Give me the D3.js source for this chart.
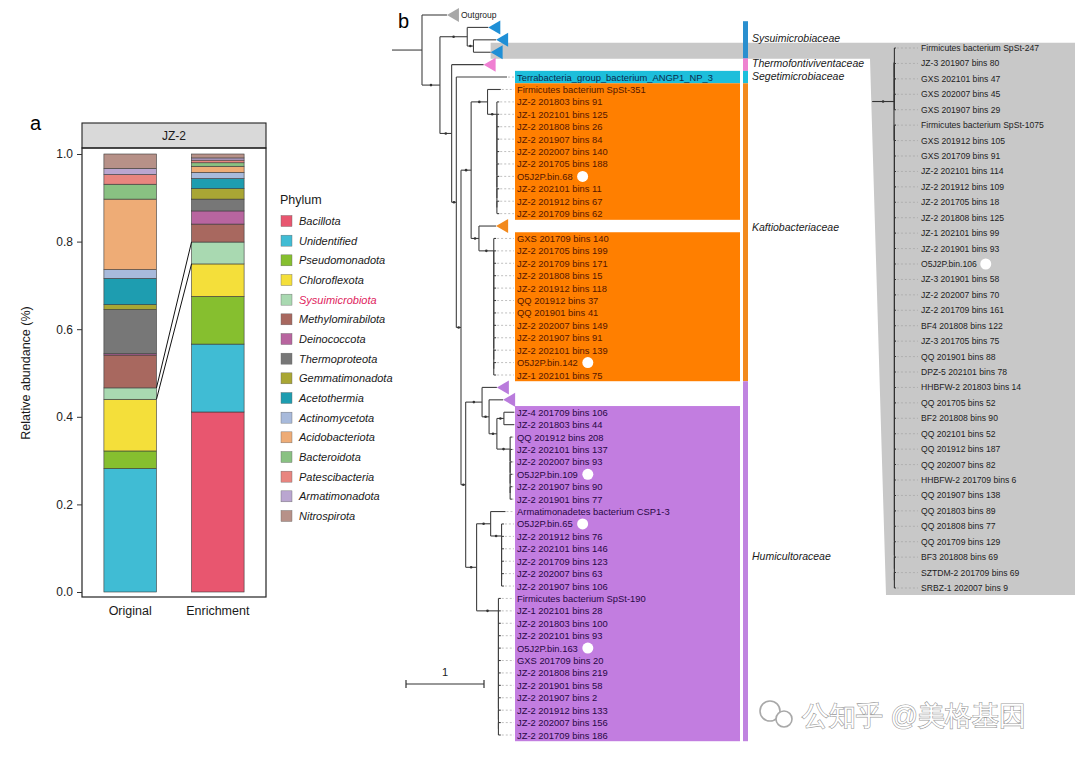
<!DOCTYPE html>
<html><head><meta charset="utf-8">
<script src="https://cdn.jsdelivr.net/npm/d3@7"></script>
<style>
body{margin:0;background:#fff}
svg text{font-family:"Liberation Sans",Arial,Helvetica,sans-serif}
</style>
</head><body>
<svg id="c" width="1080" height="763"></svg>
<script>
// ---------------- DATA: panel a ----------------
const phyla = ["Bacillota","Unidentified","Pseudomonadota","Chloroflexota","Sysuimicrobiota","Methylomirabilota","Deinococcota","Thermoproteota","Gemmatimonadota","Acetothermia","Actinomycetota","Acidobacteriota","Bacteroidota","Patescibacteria","Armatimonadota","Nitrospirota"];
const phylumColors = ["#e8566f","#40bcd4","#86bf2f","#f4df3a","#a9d9b1","#a8685f","#b8659f","#777777","#a9a634","#1e9db0","#a8badb","#eeac76","#89c182","#e8857f","#baa6d0","#b79188"];
const samples = ["Original","Enrichment"];
const originalValues   = [0,0.282,0.040,0.118,0.026,0.075,0.003,0.101,0.011,0.060,0.020,0.161,0.034,0.022,0.014,0.033];
const enrichmentValues = [0.411,0.155,0.109,0.074,0.050,0.041,0.030,0.027,0.024,0.023,0.014,0.014,0.008,0.006,0.005,0.009];
const yTicks = [0,0.2,0.4,0.6,0.8,1.0];
const highlightPhylum = "Sysuimicrobiota";
const facetLabel = "JZ-2";

// ---------------- DATA: panel b ----------------
const kaft1Leaves = ["JZ-2 201803 bins 91","JZ-1 202101 bins 125","JZ-2 201808 bins 26","JZ-2 201907 bins 84","JZ-2 202007 bins 140","JZ-2 201705 bins 188","O5J2P.bin.68","JZ-2 202101 bins 11","JZ-2 201912 bins 67","JZ-2 201709 bins 62"];
const kaft2Leaves = ["GXS 201709 bins 140","JZ-2 201705 bins 199","JZ-2 201709 bins 171","JZ-2 201808 bins 15","JZ-2 201912 bins 118","QQ 201912 bins 37","QQ 201901 bins 41","JZ-2 202007 bins 149","JZ-2 201907 bins 91","JZ-2 202101 bins 139","O5J2P.bin.142","JZ-1 202101 bins 75"];
const humi1Leaves = ["QQ 201912 bins 208","JZ-2 202101 bins 137","JZ-2 202007 bins 93","O5J2P.bin.109","JZ-2 201907 bins 90","JZ-2 201901 bins 77"];
const humi2Leaves = ["O5J2P.bin.65","JZ-2 201912 bins 76","JZ-2 202101 bins 146","JZ-2 201709 bins 123","JZ-2 202007 bins 63","JZ-2 201907 bins 106"];
const humi3Leaves = ["Firmicutes bacterium SpSt-190","JZ-1 202101 bins 28","JZ-2 201803 bins 100","JZ-2 202101 bins 93","O5J2P.bin.163","GXS 201709 bins 20","JZ-2 201808 bins 219","JZ-2 201901 bins 58","JZ-2 201907 bins 2","JZ-2 201912 bins 133","JZ-2 202007 bins 156","JZ-2 201709 bins 186"];
const greyLeaves = ["Firmicutes bacterium SpSt-247","JZ-3 201907 bins 80","GXS 202101 bins 47","GXS 202007 bins 45","GXS 201907 bins 29","Firmicutes bacterium SpSt-1075","GXS 201912 bins 105","GXS 201709 bins 91","JZ-2 202101 bins 114","JZ-2 201912 bins 109","JZ-2 201705 bins 18","JZ-2 201808 bins 125","JZ-1 202101 bins 99","JZ-2 201901 bins 93","O5J2P.bin.106","JZ-3 201901 bins 58","JZ-2 202007 bins 70","JZ-2 201709 bins 161","BF4 201808 bins 122","JZ-3 201705 bins 75","QQ 201901 bins 88","DPZ-5 202101 bins 78","HHBFW-2 201803 bins 14","QQ 201705 bins 52","BF2 201808 bins 90","QQ 202101 bins 52","QQ 201912 bins 187","QQ 202007 bins 82","HHBFW-2 201709 bins 6","QQ 201907 bins 138","QQ 201803 bins 89","QQ 201808 bins 77","QQ 201709 bins 129","BF3 201808 bins 69","SZTDM-2 201709 bins 69","SRBZ-1 202007 bins 9"];
const ourBins = ["O5J2P.bin.68","O5J2P.bin.142","O5J2P.bin.109","O5J2P.bin.65","O5J2P.bin.163","O5J2P.bin.106"];
const cladeColors = {outgroup:"#a8a8a8", sys:"#1f8fd6", thermo:"#ef7fd2", kaft:"#f28a1e", humi:"#b97bdc"};
const families = [
  {name:"Sysuimicrobiaceae", from:"sys1", to:"sys3", color:"#2a8fcf"},
  {name:"Thermofontiviventaceae", from:"thermo", to:"thermo", color:"#ee82d0"},
  {name:"Segetimicrobiaceae", from:"Terrabacteria_group_bacterium_ANGP1_NP_3", to:"Terrabacteria_group_bacterium_ANGP1_NP_3", color:"#1dbfdc"},
  {name:"Kaftiobacteriaceae", from:"Firmicutes bacterium SpSt-351", to:"JZ-1 202101 bins 75", color:"#f28a1e"},
  {name:"Humicultoraceae", from:"humiC1", to:"JZ-2 201709 bins 186", color:"#c084e0"}
];
const highlightGroups = [
  {from:"Terrabacteria_group_bacterium_ANGP1_NP_3", to:"Terrabacteria_group_bacterium_ANGP1_NP_3", fill:"#1dbedb", text:"#0a2a4c"},
  {from:"Firmicutes bacterium SpSt-351", to:"JZ-2 201709 bins 62", fill:"#ff7f00", text:"#561700"},
  {from:"GXS 201709 bins 140", to:"JZ-1 202101 bins 75", fill:"#ff7f00", text:"#561700"},
  {from:"JZ-4 201709 bins 106", to:"JZ-2 201709 bins 186", fill:"#c27de0", text:"#280845"}
];

function ladder(names, tip){
  const leaf = n => ({name:n, len:tip});
  if (names.length === 1) return leaf(names[0]);
  let node = {len:0, children:[leaf(names[names.length-2]), leaf(names[names.length-1])]};
  for (let i = names.length-3; i >= 0; i--) node = {len:0, children:[leaf(names[i]), node]};
  return node;
}
const withLen = (n, l) => Object.assign(n, {len:l});

// branch lengths (substitutions/site, scale bar = 1)
const tree = {len:0.385, children:[
  {id:"outgroup", name:"Outgroup", len:0.32, clade:"outgroup"},
  {len:0.23, children:[
    {len:0.35, children:[
      {id:"sys1", len:0.27, clade:"sys"},
      {len:0.08, children:[{id:"sys2", len:0.29, clade:"sys"}, {id:"sys3", len:0.22, clade:"sys", expanded:true}]}
    ]},
    {len:0.15, children:[
      {id:"thermo", len:0.41, clade:"thermo"},
      {len:0.06, children:[
        {name:"Terrabacteria_group_bacterium_ANGP1_NP_3", len:0.65},
        {len:0.06, children:[
          {len:0.13, children:[
            {len:0.21, children:[{name:"Firmicutes bacterium SpSt-351", len:0.17}, withLen(ladder(kaft1Leaves,0.03),0.12)]},
            {len:0.10, children:[{id:"kaftC", len:0.22, clade:"kaft"}, withLen(ladder(kaft2Leaves,0.03),0.19)]}
          ]},
          {len:0.06, children:[
            {len:0.21, children:[
              {id:"humiC1", len:0.19, clade:"humi"},
              {len:0.09, children:[
                {id:"humiC2", len:0.18, clade:"humi"},
                {len:0.10, children:[
                  {len:0.09, children:[{name:"JZ-4 201709 bins 106", len:0.13}, {name:"JZ-2 201803 bins 44", len:0.13}]},
                  withLen(ladder(humi1Leaves,0.03),0.17)
                ]}
              ]}
            ]},
            {len:0.14, children:[
              {len:0.18, children:[{name:"Armatimonadetes bacterium CSP1-3", len:0.19}, withLen(ladder(humi2Leaves,0.03),0.14)]},
              withLen(ladder(humi3Leaves,0.03),0.28)
            ]}
          ]}
        ]}
      ]}
    ]}
  ]}
]};
const greyTree = {len:0.28, children:[withLen(ladder(greyLeaves.slice(0,5),0.02),0.005), withLen(ladder(greyLeaves.slice(5),0.02),0.005)]};
const scaleBarLength = 1;
const watermark = "公知乎 @美格基因";

// ---------------- DRAW ----------------
const svg = d3.select("#c");
const FONT = '"Liberation Sans",Arial,sans-serif';

// ===== Panel a =====
const gA = svg.append("g");
const y = d3.scaleLinear([0,1],[592,154]);
const x = d3.scaleBand(samples,[82,266]).paddingInner(0.4).paddingOuter(0.25);
const color = d3.scaleOrdinal(phyla, phylumColors);
const table = [originalValues, enrichmentValues].map((vals,i) => {
  const row = {sample: samples[i]};
  phyla.forEach((p,j) => row[p] = vals[j]);
  return row;
});
const series = d3.stack().keys(phyla)(table);

gA.append("text").attr("x",30).attr("y",130).attr("font-size",20).text("a");
gA.append("rect").attr("x",82).attr("y",123).attr("width",184).attr("height",25).attr("fill","#d9d9d9").attr("stroke","#222").attr("stroke-width",1.1);
gA.append("text").attr("x",174).attr("y",136).attr("text-anchor","middle").attr("dominant-baseline","central").attr("font-size",12).attr("fill","#1a1a1a").text(facetLabel);

gA.append("g").selectAll("g").data(series).join("g").attr("fill", d => color(d.key))
  .selectAll("rect").data(d => d).join("rect")
  .attr("x", d => x(d.data.sample)).attr("width", x.bandwidth())
  .attr("y", d => y(d[1])).attr("height", d => Math.max(0, y(d[0]) - y(d[1])))
  .attr("stroke", d => (d[1]-d[0]) > 0 ? "#3a3a3a" : "none").attr("stroke-width",0.6);

const hs = series.find(s => s.key === highlightPhylum);
const o = hs[0], e = hs[1];
[[o[0],e[0]],[o[1],e[1]]].forEach(([a,b]) => {
  gA.append("line").attr("x1", x("Original")+x.bandwidth()).attr("y1", y(a))
    .attr("x2", x("Enrichment")).attr("y2", y(b)).attr("stroke","#111").attr("stroke-width",1);
});
gA.append("rect").attr("x",82).attr("y",148).attr("width",184).attr("height",449).attr("fill","none").attr("stroke","#222").attr("stroke-width",1.2);

const yAxis = gA.append("g").attr("transform","translate(82,0)")
  .call(d3.axisLeft(y).tickValues(yTicks).tickFormat(d3.format(".1f")).tickSize(5).tickPadding(4));
yAxis.select(".domain").remove();
yAxis.selectAll("text").attr("font-size",12).attr("fill","#222").attr("font-family",FONT);
yAxis.selectAll("line").attr("stroke","#333");
gA.append("text").attr("transform","translate(26,373) rotate(-90)").attr("text-anchor","middle")
  .attr("dominant-baseline","central").attr("font-size",12.5).attr("fill","#1a1a1a").text("Relative abundance (%)");
gA.selectAll(".xl").data(samples).join("text").attr("x", d => x(d)+x.bandwidth()/2).attr("y",611)
  .attr("text-anchor","middle").attr("dominant-baseline","central").attr("font-size",12.5).attr("fill","#1a1a1a").text(d => d);

gA.append("text").attr("x",280).attr("y",200).attr("dominant-baseline","central").attr("font-size",12.5).attr("fill","#1a1a1a").text("Phylum");
const ly = d3.scaleLinear([0,15],[221,516]);
const li = gA.selectAll(".li").data(phyla).join("g").attr("transform",(d,i)=>`translate(281,${ly(i)})`);
li.append("rect").attr("x",0).attr("y",-5.5).attr("width",11).attr("height",11).attr("fill", d=>color(d)).attr("stroke","#666").attr("stroke-width",0.4);
li.append("text").attr("x",18).attr("y",0).attr("dominant-baseline","central").attr("font-size",11).attr("font-style","italic")
  .attr("fill", d => d===highlightPhylum ? "#e0245e" : "#1a1a1a").text(d=>d);

// ===== Panel b =====
const gB = svg.append("g");
gB.append("text").attr("x",398).attr("y",28).attr("font-size",20).text("b");

const root = d3.hierarchy(tree);
root.each(d => d.dist = d.parent ? d.parent.dist + d.data.len : 0);
const leaves = root.leaves();
const rowY = d3.scaleLinear([0, leaves.length-1],[15,735]);
const rowStep = rowY(1)-rowY(0);
leaves.forEach((l,i) => { l.row = i; l.y = rowY(i); });
root.eachAfter(d => { if (d.children) d.y = (d.children[0].y + d.children[d.children.length-1].y)/2; });
const xT = d3.scaleLinear([0,1],[422,500]);
const byId = new Map(leaves.map(l => [l.data.id || l.data.name, l]));
const LABELX = 517, BOXL = 515, BOXR = 740;

// grey band + expanded panel (behind)
const s3 = byId.get("sys3");
const bandTop = s3.y - 9.5, bandBot = s3.y + 6.5;
gB.append("path").attr("fill","#c8c8c8")
  .attr("d", `M${xT(s3.dist)},${bandTop} L1075,${bandTop} L1075,595 L886,595 L870,${bandBot} L${xT(s3.dist)},${bandBot} Z`);

highlightGroups.forEach(g => {
  const a = byId.get(g.from), b = byId.get(g.to);
  gB.append("rect").attr("x",BOXL).attr("width",BOXR-BOXL).attr("y",a.y-rowStep/2).attr("height", b.y-a.y+rowStep).attr("fill",g.fill);
});

families.forEach(f => {
  const a = byId.get(f.from), b = byId.get(f.to);
  gB.append("rect").attr("x",743).attr("width",5).attr("y",a.y-rowStep/2).attr("height",b.y-a.y+rowStep).attr("fill",f.color);
  gB.append("text").attr("x",752).attr("y",(a.y+b.y)/2 - (b.row-a.row>3 ? 5 : 1.5)).attr("dominant-baseline","central")
    .attr("font-size",10.5).attr("font-style","italic").attr("fill","#1a1a1a").text(f.name);
});

leaves.filter(l => !l.data.clade).forEach(l => {
  gB.append("line").attr("x1",xT(l.dist)+1).attr("x2",BOXL-1).attr("y1",l.y).attr("y2",l.y)
    .attr("stroke","#a5a5a5").attr("stroke-width",0.7).attr("stroke-dasharray","2,2");
});

const lines = gB.append("g").attr("stroke","#404040").attr("stroke-width",1.1).attr("fill","none");
lines.append("line").attr("x1",xT(-root.data.len)).attr("x2",xT(0)).attr("y1",root.y).attr("y2",root.y);
root.descendants().forEach(d => {
  if (d.parent) lines.append("line").attr("x1",xT(d.parent.dist)).attr("x2",xT(d.dist)).attr("y1",d.y).attr("y2",d.y);
  if (d.children) lines.append("line").attr("x1",xT(d.dist)).attr("x2",xT(d.dist))
      .attr("y1",d.children[0].y).attr("y2",d.children[d.children.length-1].y);
});
root.descendants().filter(d => d.children && d.parent && d.data.len > 0.05).forEach(d => {
  gB.append("circle").attr("cx",(xT(d.parent.dist)+xT(d.dist))/2).attr("cy",d.y).attr("r",1.3).attr("fill","#333");
});

leaves.filter(l => l.data.clade).forEach(l => {
  const tx = xT(l.dist);
  gB.append("path").attr("d",`M${tx},${l.y} L${tx+12},${l.y-7} L${tx+12},${l.y+7} Z`).attr("fill",cladeColors[l.data.clade]);
});
gB.append("text").attr("x",xT(byId.get("outgroup").dist)+14).attr("y",byId.get("outgroup").y)
  .attr("dominant-baseline","central").attr("font-size",8.5).attr("fill","#222").text("Outgroup");

const groupOf = name => {
  for (const g of highlightGroups) {
    const a = byId.get(g.from).row, b = byId.get(g.to).row, r = byId.get(name).row;
    if (r >= a && r <= b) return g;
  }
  return null;
};
leaves.filter(l => !l.data.clade).forEach(l => {
  const g = groupOf(l.data.name);
  const t = gB.append("text").attr("x",LABELX).attr("y",l.y).attr("dominant-baseline","central")
    .attr("font-size",9.4).attr("fill", g ? g.text : "#222").text(l.data.name);
  if (ourBins.includes(l.data.name)) {
    const w = t.node().getComputedTextLength();
    gB.append("circle").attr("cx",LABELX+w+10).attr("cy",l.y).attr("r",5.5).attr("fill","#fff");
  }
});

// expanded grey sub-tree
const gr = d3.hierarchy(greyTree);
gr.each(d => d.dist = d.parent ? d.parent.dist + d.data.len : 0);
const gLeaves = gr.leaves();
const yG = d3.scaleLinear([0,gLeaves.length-1],[48,588]);
gLeaves.forEach((l,i) => l.y = yG(i));
gr.eachAfter(d => { if (d.children) d.y = (d.children[0].y + d.children[d.children.length-1].y)/2; });
const xG = d3.scaleLinear([0,1],[894,972]);
const GLABX = 921;
gLeaves.forEach(l => {
  gB.append("line").attr("x1",xG(l.dist)+1).attr("x2",GLABX-3).attr("y1",l.y).attr("y2",l.y)
    .attr("stroke","#a0a0a0").attr("stroke-width",0.6).attr("stroke-dasharray","2,2");
});
const gl = gB.append("g").attr("stroke","#333").attr("stroke-width",1.1);
gl.append("line").attr("x1",xG(-gr.data.len)).attr("x2",xG(0)).attr("y1",gr.y).attr("y2",gr.y);
gr.descendants().forEach(d => {
  if (d.parent) gl.append("line").attr("x1",xG(d.parent.dist)).attr("x2",xG(d.dist)).attr("y1",d.y).attr("y2",d.y);
  if (d.children) gl.append("line").attr("x1",xG(d.dist)).attr("x2",xG(d.dist)).attr("y1",d.children[0].y).attr("y2",d.children[d.children.length-1].y);
});
gB.append("circle").attr("cx",xG(-gr.data.len/2)).attr("cy",gr.y).attr("r",1.3).attr("fill","#333");
gLeaves.forEach(l => {
  const t = gB.append("text").attr("x",GLABX).attr("y",l.y).attr("dominant-baseline","central")
    .attr("font-size",8.6).attr("fill","#222").text(l.data.name);
  if (ourBins.includes(l.data.name)) {
    const w = t.node().getComputedTextLength();
    gB.append("circle").attr("cx",GLABX+w+9).attr("cy",l.y).attr("r",5.5).attr("fill","#fff");
  }
});

// scale bar
const sbx = 406, sby = 684, sbw = xT(scaleBarLength)-xT(0);
const sb = gB.append("g").attr("stroke","#333").attr("stroke-width",1.2);
sb.append("line").attr("x1",sbx).attr("x2",sbx+sbw).attr("y1",sby).attr("y2",sby);
sb.append("line").attr("x1",sbx).attr("x2",sbx).attr("y1",sby-4).attr("y2",sby+4);
sb.append("line").attr("x1",sbx+sbw).attr("x2",sbx+sbw).attr("y1",sby-4).attr("y2",sby+4);
gB.append("text").attr("x",sbx+sbw/2).attr("y",sby-12).attr("text-anchor","middle").attr("dominant-baseline","central")
  .attr("font-size",11).attr("fill","#222").text(String(scaleBarLength));

// watermark
const wm = svg.append("g").attr("opacity",0.85);
wm.append("circle").attr("cx",770).attr("cy",711).attr("r",10).attr("fill","none").attr("stroke","#9a9a9a").attr("stroke-width",1.6);
wm.append("circle").attr("cx",784).attr("cy",719).attr("r",8).attr("fill","#fff").attr("stroke","#9a9a9a").attr("stroke-width",1.6);
wm.append("text").attr("x",802).attr("y",716).attr("dominant-baseline","central").attr("font-size",27)
  .attr("font-family",'"Noto Sans CJK SC",sans-serif').attr("fill","#fff").attr("stroke","#8a8a8a").attr("stroke-width",1.2)
  .attr("paint-order","stroke").text(watermark);
</script>
</body></html>
